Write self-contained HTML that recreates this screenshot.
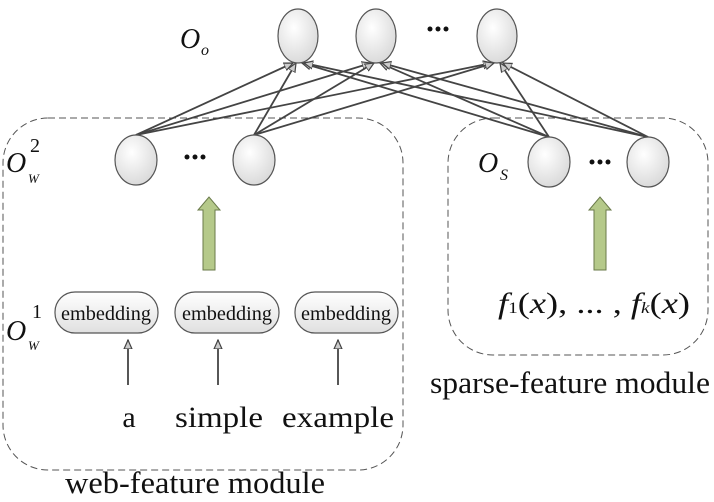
<!DOCTYPE html>
<html><head><style>
body{margin:0;background:#fff}
svg{display:block}
text{font-family:"Liberation Serif",serif;fill:#111}
</style></head><body>
<svg width="714" height="502" viewBox="0 0 714 502" xmlns="http://www.w3.org/2000/svg">
<defs>
<radialGradient id="g" cx="40%" cy="35%" r="70%"><stop offset="0" stop-color="#fff"/><stop offset="1" stop-color="#d8d8d8"/></radialGradient>
<linearGradient id="p" x1="0" y1="0" x2="0" y2="1"><stop offset="0" stop-color="#fff"/><stop offset="1" stop-color="#e0e0e0"/></linearGradient>
<marker id="a" markerWidth="10" markerHeight="10" refX="9" refY="5" orient="auto" markerUnits="userSpaceOnUse"><path d="M0,1 L9,5 L0,9 Z" fill="#ccc" stroke="#444" stroke-width="1.2"/></marker>
</defs>
<rect x="3" y="118" width="400" height="352" rx="45" fill="none" stroke="#555" stroke-dasharray="7,4"/>
<rect x="448" y="118" width="260" height="237" rx="45" fill="none" stroke="#555" stroke-dasharray="7,4"/>
<g stroke="#444" stroke-width="1.8" marker-end="url(#a)">
<line x1="136" y1="135" x2="293" y2="63"/><line x1="136" y1="135" x2="371" y2="63"/><line x1="136" y1="135" x2="492" y2="63"/>
<line x1="254" y1="135" x2="296" y2="63"/><line x1="254" y1="135" x2="374" y2="63"/><line x1="254" y1="135" x2="494" y2="63"/>
<line x1="549" y1="137" x2="302" y2="63"/><line x1="549" y1="137" x2="380" y2="63"/><line x1="549" y1="137" x2="500" y2="63"/>
<line x1="648" y1="137" x2="304" y2="63"/><line x1="648" y1="137" x2="382" y2="63"/><line x1="648" y1="137" x2="503" y2="63"/>
</g>
<g fill="url(#g)" stroke="#555" stroke-width="1.2">
<ellipse cx="298" cy="36" rx="20" ry="27"/><ellipse cx="376" cy="36" rx="20" ry="27"/><ellipse cx="497" cy="36" rx="20" ry="27"/>
<ellipse cx="136" cy="160" rx="21" ry="25"/><ellipse cx="254" cy="160" rx="21" ry="25"/>
<ellipse cx="549" cy="162" rx="21" ry="25"/><ellipse cx="648" cy="162" rx="21" ry="25"/>
</g>
<g fill="#111"><circle cx="430" cy="29" r="2.5"/><circle cx="438" cy="29" r="2.5"/><circle cx="446" cy="29" r="2.5"/>
<circle cx="187" cy="157" r="2.5"/><circle cx="195" cy="157" r="2.5"/><circle cx="203" cy="157" r="2.5"/>
<circle cx="592" cy="162" r="2.5"/><circle cx="600" cy="162" r="2.5"/><circle cx="608" cy="162" r="2.5"/></g>
<text x="180" y="48" font-size="28" font-style="italic">O</text><text x="201" y="55" font-size="16" font-style="italic">o</text>
<text x="6" y="172" font-size="28" font-style="italic">O</text><text x="30" y="152" font-size="20">2</text><text x="28" y="183" font-size="13" font-style="italic">W</text>
<text x="478" y="172" font-size="28" font-style="italic">O</text><text x="500" y="180" font-size="16" font-style="italic">S</text>
<text x="6" y="340" font-size="28" font-style="italic">O</text><text x="32" y="318" font-size="20">1</text><text x="28" y="350" font-size="13" font-style="italic">W</text>
<g fill="#b5c98a" stroke="#6a7a4a" stroke-width="1">
<path d="M203,270 L215,270 L215,210 L220,210 L209,197 L198,210 L203,210 Z"/>
<path d="M594,270 L606,270 L606,210 L611,210 L600,197 L589,210 L594,210 Z"/>
</g>
<g fill="url(#p)" stroke="#555" stroke-width="1.2">
<rect x="55" y="292" width="103" height="41" rx="20"/><rect x="175" y="292" width="104" height="41" rx="20"/><rect x="295" y="292" width="103" height="41" rx="20"/>
</g>
<g font-size="20" text-anchor="middle"><text x="106" y="320" textLength="90" lengthAdjust="spacingAndGlyphs">embedding</text><text x="227" y="320" textLength="90" lengthAdjust="spacingAndGlyphs">embedding</text><text x="346" y="320" textLength="90" lengthAdjust="spacingAndGlyphs">embedding</text></g>
<g stroke="#444" stroke-width="1.8" marker-end="url(#a)">
<line x1="128" y1="385" x2="128" y2="340"/><line x1="218" y1="385" x2="218" y2="340"/><line x1="338" y1="385" x2="338" y2="340"/>
</g>
<g font-size="30" text-anchor="middle"><text x="129" y="427">a</text><text x="219" y="427" textLength="88" lengthAdjust="spacingAndGlyphs">simple</text><text x="338" y="427" textLength="112" lengthAdjust="spacingAndGlyphs">example</text></g>
<text x="498" y="313" font-size="30" textLength="192" lengthAdjust="spacingAndGlyphs"><tspan font-style="italic">f</tspan><tspan font-size="16">1</tspan>(<tspan font-style="italic">x</tspan>),   ...  , <tspan font-style="italic">f</tspan><tspan font-size="16" font-style="italic">k</tspan>(<tspan font-style="italic">x</tspan>)</text>
<text x="430" y="393" font-size="31" textLength="280" lengthAdjust="spacingAndGlyphs">sparse-feature module</text>
<text x="65" y="493" font-size="31" textLength="260" lengthAdjust="spacingAndGlyphs">web-feature module</text>
</svg>
</body></html>
